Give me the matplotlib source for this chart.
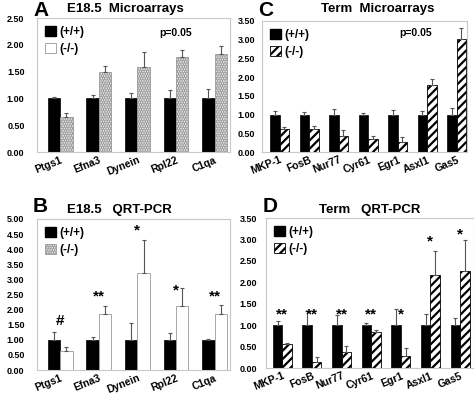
import numpy as np
import matplotlib
matplotlib.use('Agg')
from matplotlib import pyplot as plt
from matplotlib.patches import Patch

plt.rcParams['font.family'] = ['Liberation Sans', 'DejaVu Sans']
plt.rcParams['font.weight'] = 'bold'
plt.rcParams['hatch.linewidth'] = 1.6

# data
genes_e18 = ['Ptgs1', 'Efna3', 'Dynein', 'Rpl22', 'C1qa']
genes_term = ['MKP-1', 'FosB', 'Nur77', 'Cyr61', 'Egr1', 'Asxl1', 'Gas5']

a_wt = [1.0, 1.0, 1.0, 1.0, 1.0]
a_wt_err = [0.02, 0.06, 0.10, 0.15, 0.17]
a_ko = [0.65, 1.50, 1.58, 1.78, 1.83]
a_ko_err = [0.08, 0.10, 0.28, 0.13, 0.14]

b_wt = [1.0, 1.0, 1.0, 1.0, 1.0]
b_wt_err = [0.27, 0.10, 0.55, 0.22, 0.01]
b_ko = [0.62, 1.85, 3.22, 2.13, 1.87]
b_ko_err = [0.15, 0.27, 1.07, 0.58, 0.27]
b_marks = ['#', '**', '*', '*', '**']
b_mark_y = [1.62, 2.42, 4.62, 2.62, 2.42]

c_wt = [1.0, 1.0, 1.0, 1.0, 1.0, 1.0, 1.0]
c_wt_err = [0.10, 0.08, 0.14, 0.05, 0.12, 0.10, 0.18]
c_ko = [0.62, 0.62, 0.42, 0.36, 0.28, 1.78, 3.03]
c_ko_err = [0.06, 0.08, 0.17, 0.06, 0.13, 0.18, 0.28]

d_wt = [1.0, 1.0, 1.0, 1.0, 1.0, 1.0, 1.0]
d_wt_err = [0.10, 0.33, 0.23, 0.06, 0.37, 0.27, 0.16]
d_ko = [0.55, 0.13, 0.38, 0.85, 0.27, 2.17, 2.27]
d_ko_err = [0.03, 0.13, 0.13, 0.03, 0.20, 0.55, 0.72]
d_marks = ['**', '**', '**', '**', '*', '*', '*']
d_mark_y = [1.24, 1.24, 1.24, 1.24, 1.24, 2.95, 3.12]

W, H = 474, 395
fig = plt.figure(figsize=(W / 100, H / 100), dpi=100)


def box(l, t, r, b):
    return [l / W, 1 - b / H, (r - l) / W, (b - t) / H]


def panel(rect, genes, wt, wt_err, ko, ko_err, ymax, xlim, ko_style, leg_style, ypad):
    ax = fig.add_axes(rect)
    x = np.arange(len(genes))
    bw = 0.32
    ekw = dict(ecolor='#555555', elinewidth=0.8, capsize=1.5, capthick=0.8)
    ax.bar(x - bw / 2, wt, bw, color='black', edgecolor='black', linewidth=0.5,
           yerr=[np.zeros(len(wt)), wt_err], error_kw=ekw)
    ax.bar(x + bw / 2, ko, bw, yerr=[np.zeros(len(ko)), ko_err], error_kw=ekw, **ko_style)
    ax.set_xlim(*xlim)
    ax.set_ylim(0, ymax)
    yt = np.arange(0, ymax + 0.01, 0.5)
    ax.set_yticks(yt)
    ax.set_yticklabels(['%.2f' % v for v in yt], fontsize=6.5, fontweight='bold')
    ax.set_xticks(x)
    ax.set_xticklabels(genes, rotation=22, ha='right', rotation_mode='anchor', fontsize=7.5, fontweight='bold')
    ax.tick_params(axis='x', length=0, pad=2)
    ax.tick_params(axis='y', length=0, pad=ypad)
    for s in ax.spines.values():
        s.set_color('#c8c8c8')
        s.set_linewidth(0.8)
    handles = [Patch(facecolor='black', edgecolor='black', label='(+/+)'),
               Patch(label='(-/-)', **leg_style)]
    ax.legend(handles=handles, loc='upper left', frameon=False,
              prop={'weight': 'bold', 'size': 8.5}, handlelength=0.9, handleheight=0.9,
              handletextpad=0.3, labelspacing=0.4, borderaxespad=0.3)
    return ax


white = dict(facecolor='white', edgecolor='#999999', linewidth=0.6)
dots = dict(facecolor='#f0f0f0', edgecolor='#999999', hatch='.......', linewidth=0.6)
stripes = dict(facecolor='white', edgecolor='black', hatch='////', linewidth=0.6)

axA = panel(box(37, 18, 230, 152), genes_e18, a_wt, a_wt_err, a_ko, a_ko_err, 2.5, (-0.6, 4.4), dots, white, 9)
axB = panel(box(37, 219, 230, 370), genes_e18, b_wt, b_wt_err, b_ko, b_ko_err, 5.0, (-0.6, 4.4), white, dots, 9)
axC = panel(box(262, 21, 467, 152), genes_term, c_wt, c_wt_err, c_ko, c_ko_err, 3.5, (-0.6, 6.35), stripes, stripes, 5)
axD = panel(box(266, 218, 474, 368), genes_term, d_wt, d_wt_err, d_ko, d_ko_err, 3.5, (-0.55, 6.47), stripes, stripes, 6.5)

for ax, marks, ys in [(axB, b_marks, b_mark_y), (axD, d_marks, d_mark_y)]:
    for i, (m, y) in enumerate(zip(marks, ys)):
        ax.text(i, y, m, ha='center', va='center', fontsize=11, fontweight='bold')

axA.text(0.72, 0.89, 'p=0.05', transform=axA.transAxes, ha='center', va='center', fontsize=7.5, fontweight='bold')
axC.text(0.75, 0.91, 'p=0.05', transform=axC.transAxes, ha='center', va='center', fontsize=7.5, fontweight='bold')

# panel letters and titles (pixel positions from the top-left)
for letter, lx, ly, title, tx, ty in [('A', 41, 10, 'E18.5  Microarrays', 125, 9),
                                      ('C', 266, 10, 'Term  Microarrays', 378, 9),
                                      ('B', 40, 207, 'E18.5   QRT-PCR', 119, 210),
                                      ('D', 270, 206, 'Term   QRT-PCR', 370, 210)]:
    fig.text(lx / W, 1 - ly / H, letter, ha='center', va='center', fontsize=15, fontweight='bold')
    fig.text(tx / W, 1 - ty / H, title, ha='center', va='center', fontsize=9.5, fontweight='bold')

fig.savefig('out.png', dpi=100)
